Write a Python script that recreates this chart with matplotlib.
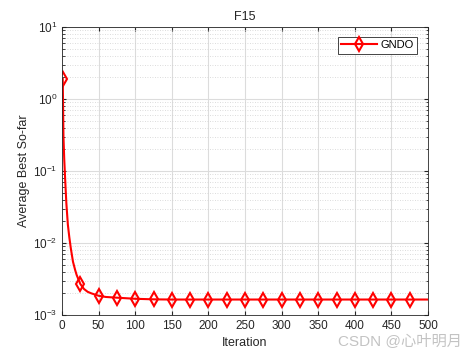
import matplotlib
matplotlib.use("Agg")
import matplotlib.pyplot as plt
from matplotlib.ticker import LogLocator, NullFormatter, FixedLocator

plt.rcParams['font.family'] = ['Liberation Sans', 'Noto Sans CJK SC', 'DejaVu Sans']

title = "F15"
series_name = "GNDO"
iterations = [1, 2, 3, 4, 5, 6, 8, 10, 12, 15, 18, 20, 25, 30, 35, 40, 50, 60, 75,
              100, 125, 150, 175, 200, 225, 250, 275, 300, 325, 350, 375, 400,
              425, 450, 475, 500]
values = [1.9, 0.30, 0.15, 0.09, 0.055, 0.035, 0.018, 0.012, 0.0085, 0.0055,
          0.0042, 0.0036, 0.0027, 0.0023, 0.0021, 0.00200, 0.00185, 0.00178,
          0.00174, 0.00168, 0.00165, 0.00164, 0.00164, 0.00164, 0.00164,
          0.00164, 0.00164, 0.00164, 0.00164, 0.00164, 0.00164, 0.00164,
          0.00164, 0.00164, 0.00164, 0.00164]
marker_iters = [1, 25, 50, 75, 100, 125, 150, 175, 200, 225, 250, 275, 300,
                325, 350, 375, 400, 425, 450, 475]
x_ticks = [0, 50, 100, 150, 200, 250, 300, 350, 400, 450, 500]
y_ticks = [1e-3, 1e-2, 1e-1, 1e0, 1e1]

fig = plt.figure(figsize=(4.74, 3.55), dpi=100)
ax = fig.add_axes([62/474, 1-315/355, (428-62)/474, (315-27)/355])

mark_idx = [iterations.index(m) for m in marker_iters]
ax.plot(iterations, values, color='red', lw=1.5, marker='d', markersize=7,
        markerfacecolor='none', markeredgecolor='red', markeredgewidth=1.5,
        markevery=mark_idx, label=series_name)

ax.set_yscale('log')
ax.set_xlim(0, 500)
ax.set_ylim(1e-3, 1e1)
ax.xaxis.set_major_locator(FixedLocator(x_ticks))
ax.yaxis.set_major_locator(FixedLocator(y_ticks))
ax.yaxis.set_minor_locator(LogLocator(base=10, subs=range(2, 10)))
ax.yaxis.set_minor_formatter(NullFormatter())

ax.grid(True, which='major', color='#dcdcdc', lw=0.8)
ax.grid(True, which='minor', axis='y', color='#d0d0d0', lw=0.6, linestyle=(0, (1, 2)))
ax.set_axisbelow(True)

txtc = '#262626'
ax.tick_params(which='both', direction='in', top=True, right=True, labelsize=8.5,
               colors=txtc, length=3)
ax.tick_params(which='minor', length=1.8)
for s in ax.spines.values():
    s.set_color('#262626')
    s.set_linewidth(0.6)

ax.set_title(title, fontsize=9, color=txtc, pad=5)
ax.set_xlabel("Iteration", fontsize=9, color=txtc, labelpad=4)
ax.set_ylabel("Average Best So-far", fontsize=9, color=txtc, labelpad=2)

leg = ax.legend(loc='upper right', fontsize=8, frameon=True, fancybox=False,
                borderpad=0.3, handlelength=3.2, handletextpad=0.3,
                bbox_to_anchor=(0.985, 0.985))
leg.get_frame().set_edgecolor('#262626')
leg.get_frame().set_linewidth(0.6)
leg.get_frame().set_alpha(1)

fig.text(462/474, 1-341/355, "CSDN @心叶明月", ha='right', va='center', fontsize=11,
         color='#bdbdbd', alpha=0.9)

fig.savefig("out.png", dpi=100)
